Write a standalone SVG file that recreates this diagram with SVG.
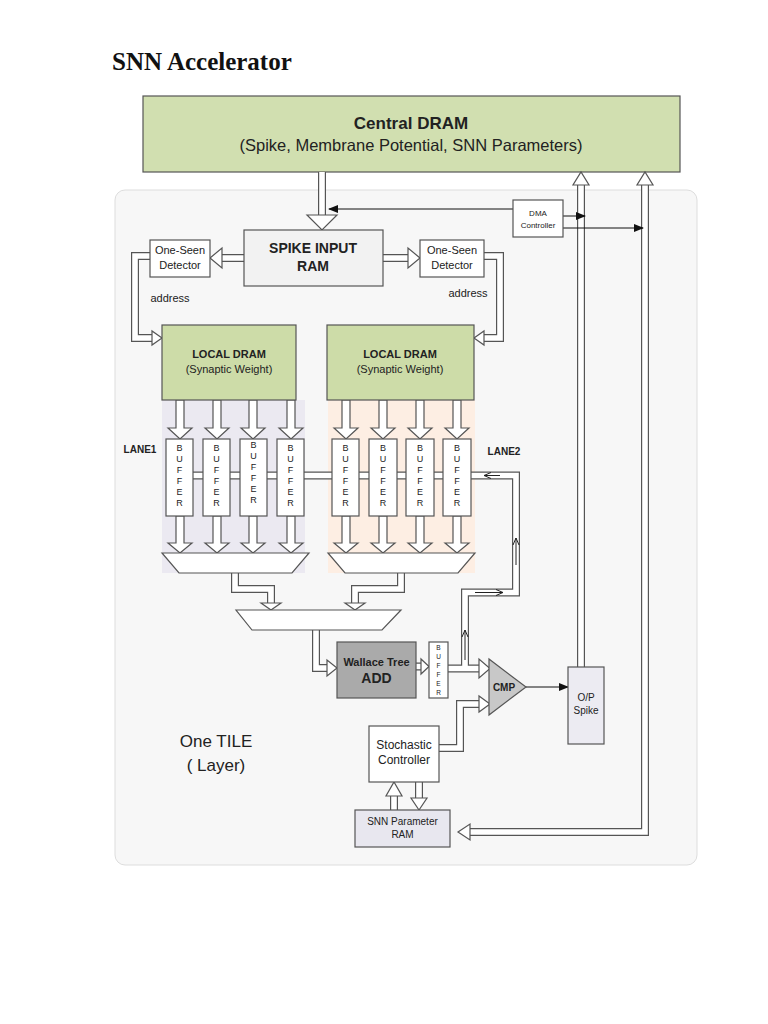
<svg xmlns="http://www.w3.org/2000/svg" width="768" height="1024" viewBox="0 0 768 1024">
<defs>
<style>
.box{stroke:#555;stroke-width:1.2}
.t{font-family:"Liberation Sans",Arial,sans-serif;fill:#222;text-anchor:middle}
.b{font-weight:bold}
.busO{fill:none;stroke:#555;stroke-width:8}
.busI{fill:none;stroke:#fff;stroke-width:5.6}
.head{fill:#fff;stroke:#555;stroke-width:1.2}
.thin{fill:none;stroke:#222;stroke-width:1}
</style>
<marker id="fa" markerWidth="10" markerHeight="8" refX="9" refY="4" orient="auto" markerUnits="userSpaceOnUse"><path d="M0,0 L10,4 L0,8 z" fill="#111"/></marker>
<marker id="ch" markerWidth="8" markerHeight="8" refX="7" refY="4" orient="auto" markerUnits="userSpaceOnUse"><path d="M0,1 L7,4 L0,7" fill="none" stroke="#222" stroke-width="1"/></marker>
</defs>
<rect width="768" height="1024" fill="#fff"/>
<text x="112" y="70" style="font-family:'Liberation Serif','Times New Roman',serif;font-weight:bold;font-size:25px" fill="#111">SNN Accelerator</text>
<g id="tile"><rect x="115" y="190" width="582" height="675" rx="10" fill="#f7f7f7" stroke="#ddd"/></g>
<g id="central-dram"><rect class="box" x="143" y="96" width="537" height="76" fill="#d1dfb0"/>
<text class="t b" x="411" y="129" font-size="17">Central DRAM</text>
<text class="t" x="411" y="151" font-size="16.5">(Spike, Membrane Potential, SNN Parameters)</text></g>
<g id="lanes-bg"><rect x="162" y="400" width="143" height="173" fill="#ebe9f1"/><rect x="328" y="400" width="147" height="173" fill="#fdeee3"/></g>
<g id="connectors">
<path class="busO" d="M322,172 V216 M244,258 H222 M383,258 H408 M150,256 H135 V338 H152 M484,256 H500 V338 H484 M166,475.5 H516 V592.5 H465 V668 M448,668.5 H480 M235,573 V589 H271 V604 M401,573 V589 H355 V604 M316,630 V668 H328 M439,748 H460 V704 H480 M645,185 V832 H470 M581,185 V667 M416,666.5 H422 M394,796 V810 M419,782 V798"/>
<path class="busI" d="M322,172 V217 M244,258 H221 M383,258 H409 M151,256 H135 V338 H153 M484,256 H500 V338 H483 M166,475.5 H516 V592.5 H465 V668 M448,668.5 H481 M235,573 V589 H271 V605 M401,573 V589 H355 V605 M316,630 V668 H329 M439,748 H460 V704 H481 M645,185 V832 H469 M581,185 V667 M416,666.5 H423 M394,795 V810 M419,782 V799"/>
<g class="head">
<path d="M307,215 H337 L322,230 z"/>
<path d="M222,248 V268 L210,258 z"/>
<path d="M408,248 V268 L420,258 z"/>
<path d="M152,331 V345 L162,338 z"/>
<path d="M484,331 V345 L474,338 z"/>
<path d="M479,659 V678 L490,668.5 z"/>
<path d="M261,603 H281 L271,610 z"/>
<path d="M345,603 H365 L355,610 z"/>
<path d="M327,660 V676 L337,668 z"/>
<path d="M479,696 V712 L490,704 z"/>
<path d="M470,824 V840 L458,832 z"/>
<path d="M573,185 H589 L581,172 z"/>
<path d="M637,185 H653 L645,172 z"/>
<path d="M421,659 V674 L429,666.5 z"/>
<path d="M386,796 H402 L394,782 z"/>
<path d="M411,798 H427 L419,810 z"/>
</g>
<g class="thin">
<path d="M500,475.5 H484" marker-end="url(#ch)"/>
<path d="M516,565 V538" marker-end="url(#ch)"/>
<path d="M475,592.5 H503" marker-end="url(#ch)"/>
<path d="M465,660 V630" marker-end="url(#ch)"/>
</g>
<g fill="none" stroke="#111" stroke-width="1">
<path d="M513,209 H329" marker-end="url(#fa)"/>
<path d="M563,216 H585" marker-end="url(#fa)"/>
<path d="M563,228 H643" marker-end="url(#fa)"/>
<path d="M526,687 H568" marker-end="url(#fa)"/>
</g>
<g class="head">
<path d="M176,400 h8 v28 h8 l-12,11 l-12,-11 h8 z"/><path d="M213,400 h8 v28 h8 l-12,11 l-12,-11 h8 z"/><path d="M249,400 h8 v28 h8 l-12,11 l-12,-11 h8 z"/><path d="M287,400 h8 v28 h8 l-12,11 l-12,-11 h8 z"/>
<path d="M342,400 h8 v28 h8 l-12,11 l-12,-11 h8 z"/><path d="M379,400 h8 v28 h8 l-12,11 l-12,-11 h8 z"/><path d="M416,400 h8 v28 h8 l-12,11 l-12,-11 h8 z"/><path d="M453,400 h8 v28 h8 l-12,11 l-12,-11 h8 z"/>
<path d="M176,516 h8 v27 h8 l-12,10 l-12,-10 h8 z"/><path d="M213,516 h8 v27 h8 l-12,10 l-12,-10 h8 z"/><path d="M249,516 h8 v27 h8 l-12,10 l-12,-10 h8 z"/><path d="M287,516 h8 v27 h8 l-12,10 l-12,-10 h8 z"/>
<path d="M342,516 h8 v27 h8 l-12,10 l-12,-10 h8 z"/><path d="M379,516 h8 v27 h8 l-12,10 l-12,-10 h8 z"/><path d="M416,516 h8 v27 h8 l-12,10 l-12,-10 h8 z"/><path d="M453,516 h8 v27 h8 l-12,10 l-12,-10 h8 z"/>
</g>
</g>
<g id="spike-input-ram"><rect class="box" x="244" y="230" width="139" height="56" fill="#f2f2f2"/>
<text class="t b" x="313" y="253" font-size="14">SPIKE INPUT</text><text class="t b" x="313" y="271" font-size="14">RAM</text></g>
<g id="detector-left"><rect class="box" x="150" y="240" width="60" height="37" fill="#fff"/>
<text class="t" x="180" y="254" font-size="11">One-Seen</text><text class="t" x="180" y="269" font-size="11">Detector</text></g>
<g id="detector-right"><rect class="box" x="420" y="240" width="64" height="37" fill="#fff"/>
<text class="t" x="452" y="254" font-size="11">One-Seen</text><text class="t" x="452" y="269" font-size="11">Detector</text></g>
<text class="t" x="170" y="302" font-size="11">address</text>
<text class="t" x="468" y="297" font-size="11">address</text>
<g id="dma"><rect class="box" x="513" y="200" width="50" height="37" fill="#fff"/>
<text class="t" x="538" y="216" font-size="8">DMA</text><text class="t" x="538" y="228" font-size="8">Controller</text></g>
<g id="local-dram-1"><rect class="box" x="162" y="325" width="134" height="75" fill="#cddca8"/>
<text class="t b" x="229" y="358" font-size="11">LOCAL DRAM</text><text class="t" x="229" y="373" font-size="11">(Synaptic Weight)</text></g>
<g id="local-dram-2"><rect class="box" x="327" y="325" width="147" height="75" fill="#cddca8"/>
<text class="t b" x="400" y="358" font-size="11">LOCAL DRAM</text><text class="t" x="400" y="373" font-size="11">(Synaptic Weight)</text></g>
<g id="buffers" font-size="9">
<g id="buf-l1"><rect class="box" x="166" y="439" width="27" height="77" fill="#fff"/><text class="t" font-size="9"><tspan x="179.5" y="451">B</tspan><tspan x="179.5" dy="11">U</tspan><tspan x="179.5" dy="11">F</tspan><tspan x="179.5" dy="11">F</tspan><tspan x="179.5" dy="11">E</tspan><tspan x="179.5" dy="11">R</tspan></text></g>
<g id="buf-l2"><rect class="box" x="203" y="439" width="27" height="77" fill="#fff"/><text class="t" font-size="9"><tspan x="216.5" y="451">B</tspan><tspan x="216.5" dy="11">U</tspan><tspan x="216.5" dy="11">F</tspan><tspan x="216.5" dy="11">F</tspan><tspan x="216.5" dy="11">E</tspan><tspan x="216.5" dy="11">R</tspan></text></g>
<g id="buf-l3"><rect class="box" x="240" y="439" width="27" height="77" fill="#fff"/><text class="t" font-size="9"><tspan x="253.5" y="448">B</tspan><tspan x="253.5" dy="11">U</tspan><tspan x="253.5" dy="11">F</tspan><tspan x="253.5" dy="11">F</tspan><tspan x="253.5" dy="11">E</tspan><tspan x="253.5" dy="11">R</tspan></text></g>
<g id="buf-l4"><rect class="box" x="277" y="439" width="27" height="77" fill="#fff"/><text class="t" font-size="9"><tspan x="290.5" y="451">B</tspan><tspan x="290.5" dy="11">U</tspan><tspan x="290.5" dy="11">F</tspan><tspan x="290.5" dy="11">F</tspan><tspan x="290.5" dy="11">E</tspan><tspan x="290.5" dy="11">R</tspan></text></g>
<g id="buf-r1"><rect class="box" x="332" y="439" width="27" height="77" fill="#fff"/><text class="t" font-size="9"><tspan x="345.5" y="451">B</tspan><tspan x="345.5" dy="11">U</tspan><tspan x="345.5" dy="11">F</tspan><tspan x="345.5" dy="11">F</tspan><tspan x="345.5" dy="11">E</tspan><tspan x="345.5" dy="11">R</tspan></text></g>
<g id="buf-r2"><rect class="box" x="369" y="439" width="28" height="77" fill="#fff"/><text class="t" font-size="9"><tspan x="383" y="451">B</tspan><tspan x="383" dy="11">U</tspan><tspan x="383" dy="11">F</tspan><tspan x="383" dy="11">F</tspan><tspan x="383" dy="11">E</tspan><tspan x="383" dy="11">R</tspan></text></g>
<g id="buf-r3"><rect class="box" x="406" y="439" width="28" height="77" fill="#fff"/><text class="t" font-size="9"><tspan x="420" y="451">B</tspan><tspan x="420" dy="11">U</tspan><tspan x="420" dy="11">F</tspan><tspan x="420" dy="11">F</tspan><tspan x="420" dy="11">E</tspan><tspan x="420" dy="11">R</tspan></text></g>
<g id="buf-r4"><rect class="box" x="443" y="439" width="28" height="77" fill="#fff"/><text class="t" font-size="9"><tspan x="457" y="451">B</tspan><tspan x="457" dy="11">U</tspan><tspan x="457" dy="11">F</tspan><tspan x="457" dy="11">F</tspan><tspan x="457" dy="11">E</tspan><tspan x="457" dy="11">R</tspan></text></g>
</g>
<text class="t b" x="140" y="453" font-size="10">LANE1</text>
<text class="t b" x="504" y="455" font-size="10">LANE2</text>
<g id="mux-1"><path class="box" d="M162,553 H309 L292,573 H179 z" fill="#fff"/></g>
<g id="mux-2"><path class="box" d="M328,553 H475 L458,573 H345 z" fill="#fff"/></g>
<g id="mux-3"><path class="box" d="M236,610 H401 L382,630 H252 z" fill="#fff"/></g>
<g id="wallace"><rect class="box" x="337" y="642" width="79" height="56" fill="#aaa"/>
<text class="t b" x="376.5" y="666" font-size="11">Wallace Tree</text><text class="t b" x="376.5" y="683" font-size="14">ADD</text></g>
<g id="buf-out"><rect class="box" x="429" y="642" width="19" height="56" fill="#fff"/><text class="t" font-size="6.5"><tspan x="438.5" y="650">B</tspan><tspan x="438.5" dy="9">U</tspan><tspan x="438.5" dy="9">F</tspan><tspan x="438.5" dy="9">F</tspan><tspan x="438.5" dy="9">E</tspan><tspan x="438.5" dy="9">R</tspan></text></g>
<g id="cmp"><path class="box" d="M489,659 V715 L526,687 z" fill="#c8c8c8"/><text class="t b" x="504" y="691" font-size="10">CMP</text></g>
<g id="op-spike"><rect class="box" x="568" y="667" width="36" height="77" fill="#ecebf2"/>
<text class="t" x="586" y="701" font-size="10">O/P</text><text class="t" x="586" y="714" font-size="10">Spike</text></g>
<g id="stochastic"><rect class="box" x="369" y="726" width="70" height="56" fill="#fff"/>
<text class="t" x="404" y="749" font-size="12">Stochastic</text><text class="t" x="404" y="764" font-size="12">Controller</text></g>
<g id="snn-param"><rect class="box" x="355" y="810" width="95" height="37" fill="#e8e7ef"/>
<text class="t" x="402.5" y="825" font-size="10">SNN Parameter</text><text class="t" x="402.5" y="838" font-size="10">RAM</text></g>
<text class="t" x="216" y="747" font-size="17">One TILE</text>
<text class="t" x="216" y="771" font-size="17">( Layer)</text>
</svg>
